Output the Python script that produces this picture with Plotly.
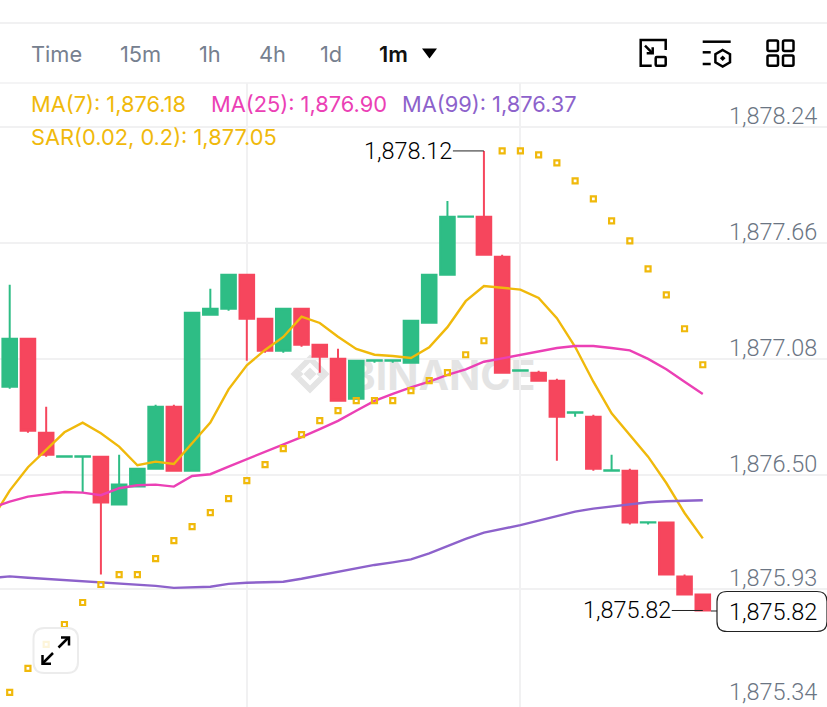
#!/usr/bin/env python3
"""plot.py - ETH/USDT 1m candles with MA and SAR overlays, phone-app style."""

import plotly.graph_objects as go

# ── Data ─────────────────────────────────────────────────────────────────────

index = list(range(39))

opens = [1876.94, 1877.18, 1876.71, 1876.59, 1876.59, 1876.59, 1876.35, 1876.44,
         1876.53, 1876.84, 1876.52, 1877.30, 1877.33, 1877.50, 1877.28, 1877.12,
         1877.33, 1877.15, 1877.08, 1876.88, 1877.07, 1877.07, 1877.06, 1877.26,
         1877.50, 1877.79, 1877.79, 1877.59, 1877.02, 1877.01, 1876.97, 1876.81,
         1876.79, 1876.52, 1876.52, 1876.26, 1876.26, 1875.99, 1875.90]
highs = [1877.45, 1877.18, 1876.84, 1876.592, 1876.592, 1876.59, 1876.60, 1876.53,
         1876.85, 1876.85, 1877.31, 1877.43, 1877.50, 1877.50, 1877.28, 1877.33,
         1877.33, 1877.15, 1877.13, 1877.07, 1877.072, 1877.072, 1877.27, 1877.50,
         1877.87, 1877.792, 1878.12, 1877.60, 1877.022, 1877.02, 1876.98, 1876.812,
         1876.80, 1876.60, 1876.53, 1876.262, 1876.26, 1876.00, 1875.90]
lows = [1876.93, 1876.71, 1876.59, 1876.59, 1876.41, 1876.00, 1876.35, 1876.44,
        1876.53, 1876.52, 1876.52, 1877.30, 1877.32, 1877.07, 1877.11, 1877.11,
        1877.14, 1877.01, 1876.87, 1876.88, 1877.06, 1877.06, 1877.06, 1877.26,
        1877.50, 1877.79, 1877.60, 1877.01, 1877.02, 1876.97, 1876.57, 1876.79,
        1876.52, 1876.52, 1876.25, 1876.25, 1876.00, 1875.90, 1875.82]
closes = [1877.18, 1876.72, 1876.60, 1876.592, 1876.592, 1876.36, 1876.45, 1876.53,
          1876.84, 1876.52, 1877.31, 1877.33, 1877.50, 1877.28, 1877.12, 1877.33,
          1877.15, 1877.09, 1876.87, 1877.07, 1877.072, 1877.072, 1877.27, 1877.50,
          1877.79, 1877.792, 1877.60, 1877.01, 1877.022, 1876.97, 1876.79, 1876.812,
          1876.53, 1876.522, 1876.26, 1876.262, 1876.00, 1875.90, 1875.82]

# MA lines start one bar before the first visible candle
ma_index = list(range(-1, 39))
ma7 = [1876.273, 1876.420, 1876.537, 1876.623, 1876.712, 1876.760, 1876.707, 1876.640,
       1876.547, 1876.565, 1876.553, 1876.657, 1876.760, 1876.927, 1877.047, 1877.124,
       1877.189, 1877.291, 1877.259, 1877.190, 1877.129, 1877.100, 1877.094, 1877.084,
       1877.137, 1877.238, 1877.368, 1877.444, 1877.434, 1877.426, 1877.384, 1877.283,
       1877.140, 1876.965, 1876.807, 1876.698, 1876.590, 1876.458, 1876.308, 1876.181]
ma25 = [1876.333, 1876.365, 1876.390, 1876.400, 1876.413, 1876.410, 1876.397, 1876.432,
        1876.447, 1876.450, 1876.440, 1876.493, 1876.502, 1876.540, 1876.577, 1876.615,
        1876.648, 1876.688, 1876.728, 1876.769, 1876.820, 1876.869, 1876.904, 1876.937,
        1876.965, 1876.999, 1877.027, 1877.065, 1877.082, 1877.099, 1877.115, 1877.134,
        1877.144, 1877.144, 1877.134, 1877.122, 1877.079, 1877.027, 1876.965, 1876.904]
ma99 = [1875.983, 1875.991, 1875.984, 1875.978, 1875.971, 1875.966, 1875.958, 1875.953,
        1875.946, 1875.943, 1875.933, 1875.936, 1875.939, 1875.953, 1875.959, 1875.961,
        1875.964, 1875.979, 1875.996, 1876.013, 1876.031, 1876.048, 1876.061, 1876.076,
        1876.106, 1876.143, 1876.178, 1876.210, 1876.228, 1876.247, 1876.270, 1876.293,
        1876.315, 1876.330, 1876.340, 1876.352, 1876.362, 1876.367, 1876.370, 1876.372]
sar = [1875.41, 1875.53, 1875.65, 1875.75, 1875.86, 1875.95, 1876.00, 1876.00,
       1876.08, 1876.17, 1876.24, 1876.31, 1876.38, 1876.47, 1876.55, 1876.63,
       1876.70, 1876.77, 1876.82, 1876.87, 1876.87, 1876.87, 1876.92, 1876.97,
       1877.01, 1877.10, 1877.17, 1878.12, 1878.12, 1878.10, 1878.06, 1877.97,
       1877.88, 1877.77, 1877.67, 1877.53, 1877.40, 1877.23, 1877.05]

price_ticks = [1878.24, 1877.66, 1877.08, 1876.50, 1875.93, 1875.34]
price_tick_labels = ["1,878.24", "1,877.66", "1,877.08", "1,876.50", "1,875.93", "1,875.34"]
time_grid = [13, 28]

intervals = ["Time", "15m", "1h", "4h", "1d"]
interval_x = [29, 118, 197, 257, 318]

# ── Style ────────────────────────────────────────────────────────────────────

W, H = 827, 707
GREEN, RED = "#2EBD85", "#F6465D"
YELLOW, PINK, PURPLE = "#F0B90B", "#EB40B5", "#8D62CB"
GRAY = "#76808F"
GRID = "#F1F1F2"
FONT = "Inter"
NUM_FONT = dict(family="Roboto", size=23.5, weight=300)  # chart canvas text has even digits
TOP = 83  # chart starts under the toolbar


def px(x):
    return x / W


def py(y):
    return 1 - y / H


def path(d):
    # absolute "M x y L x y" strings in page pixels -> paper coordinates
    out, is_x = [], True
    for tok in d.split():
        if tok.isalpha():
            out.append(tok)
            continue
        out.append(f"{px(float(tok)):.5f}" if is_x else f"{py(float(tok)):.5f}")
        is_x = not is_x
    return " ".join(out)


def stroke(d, width=2.5, color="black", fill=None, layer="above"):
    return dict(type="path", xref="paper", yref="paper", path=path(d), layer=layer,
                line=dict(color=color, width=width), fillcolor=fill or "rgba(0,0,0,0)")


def solid(d, color, layer="above"):
    return dict(type="path", xref="paper", yref="paper", path=path(d), layer=layer,
                line=dict(width=0), fillcolor=color)


def rounded(x0, y0, x1, y1, r):
    return (f"M {x0 + r} {y0} L {x1 - r} {y0} Q {x1} {y0} {x1} {y0 + r} "
            f"L {x1} {y1 - r} Q {x1} {y1} {x1 - r} {y1} L {x0 + r} {y1} "
            f"Q {x0} {y1} {x0} {y1 - r} L {x0} {y0 + r} Q {x0} {y0} {x0 + r} {y0} Z")


def text(x, y, s, color, size=21.8, anchor="left", weight=None):
    return dict(xref="paper", yref="paper", x=px(x), y=py(y), text=s, showarrow=False,
                xanchor=anchor, yanchor="middle",
                font=dict(family=FONT, size=size, color=color, weight=weight))


# ── Figure ───────────────────────────────────────────────────────────────────

fig = go.Figure()

fig.add_trace(go.Candlestick(
    x=index, open=opens, high=highs, low=lows, close=closes,
    increasing=dict(line=dict(color=GREEN, width=2), fillcolor=GREEN),
    decreasing=dict(line=dict(color=RED, width=2), fillcolor=RED),
    whiskerwidth=0, hoverinfo="skip",
))
for name, values, color in [("MA(7)", ma7, YELLOW), ("MA(25)", ma25, PINK), ("MA(99)", ma99, PURPLE)]:
    fig.add_trace(go.Scatter(x=ma_index, y=values, mode="lines", name=name,
                             line=dict(color=color, width=2.4), hoverinfo="skip"))
fig.add_trace(go.Scatter(x=index, y=sar, mode="markers", name="SAR",
                         marker=dict(symbol="square-open", size=5, color=YELLOW,
                                     line=dict(color=YELLOW, width=2.2)),
                         hoverinfo="skip"))

shapes = [
    # toolbar separators
    stroke(f"M 0 23 L {W} 23", 2, GRID),
    stroke(f"M 0 83 L {W} 83", 1.5, GRID),
    # 1m dropdown triangle
    solid("M 422 48.5 L 437 48.5 L 429.5 58.5 Z", "black"),
    # layout icon
    stroke("M 651.7 65.7 L 640.7 65.7 L 640.7 40 L 665.7 40 L 665.7 50"),
    stroke(rounded(655.7, 57, 665.7, 65.7, 1)),
    stroke("M 645 45.7 L 652.7 53.3"),
    stroke("M 652.7 47.3 L 652.7 53.3 L 646.7 53.3"),
    # indicator icon
    stroke("M 702.7 41.7 L 730.7 41.7"),
    stroke("M 702.7 52.3 L 710.7 52.3"),
    stroke("M 702.7 64 L 710.7 64"),
    stroke("M 722.7 50 L 730 54.2 L 730 62.4 L 722.7 66.6 L 715.4 62.4 L 715.4 54.2 Z"),
    solid("M 722.7 55.5 L 725.5 58.3 L 722.7 61.1 L 719.9 58.3 Z", "black"),
    # grid icon
    stroke(rounded(767.5, 40.5, 778, 51, 1.5)),
    stroke(rounded(783, 40.5, 793.5, 51, 1.5)),
    stroke(rounded(767.5, 55.5, 778, 65.7, 1.5)),
    stroke(rounded(783, 55.5, 793.5, 65.7, 1.5)),
    # expand button
    stroke(rounded(33.5, 628, 78, 673, 11), 2, "#ECECEC", "rgba(255,255,255,0.85)"),
    stroke("M 58.5 647.5 L 68 638"),
    stroke("M 61 637.5 L 69 637.5 L 69 645.5"),
    stroke("M 53 653 L 43 663"),
    stroke("M 42.5 655 L 42.5 663.8 L 51 663.8"),
    # watermark logo, under the candles
    solid("M 310 367.5 L 316.5 374 L 310 380.5 L 303.5 374 Z", "#E4E4E4", "below"),
    solid("M 297 367.5 L 303.5 374 L 297 380.5 L 290.5 374 Z", "#E4E4E4", "below"),
    solid("M 323 367.5 L 329.5 374 L 323 380.5 L 316.5 374 Z", "#E4E4E4", "below"),
    solid("M 310 354.5 L 323 367.5 L 319 371.5 L 310 362.5 L 301 371.5 L 297 367.5 Z", "#E4E4E4", "below"),
    solid("M 310 393.5 L 323 380.5 L 319 376.5 L 310 385.5 L 301 376.5 L 297 380.5 Z", "#E4E4E4", "below"),
    dict(type="rect", xref="paper", yref="paper", layer="below",
         x0=px(342), x1=px(542), y0=py(392), y1=py(356),
         line=dict(width=0), fillcolor="rgba(0,0,0,0)",
         label=dict(text="BINANCE", textposition="middle center",
                    font=dict(family="Inter", size=41, color="#E4E4E4", weight=700))),
    # current price box
    stroke("M 711 611 L 717 611", 1, "#222222"),
    stroke(rounded(717, 591.5, 827, 631.5, 10), 1.2, "#222222", "white"),
]

annotations = [text(x, 53.5, s, GRAY) for x, s in zip(interval_x, intervals)]
annotations += [
    text(377, 53.5, "1m", "#111111", weight=600),
    text(29, 104, "MA(7): 1,876.18", YELLOW),
    text(209, 104, "MA(25): 1,876.90", PINK),
    text(400, 104, "MA(99): 1,876.37", PURPLE),
    text(29, 137, "SAR(0.02, 0.2): 1,877.05", YELLOW),
    dict(xref="paper", yref="paper", x=px(772.5), y=py(612), text="1,875.82", showarrow=False,
         xanchor="center", yanchor="middle", font=dict(NUM_FONT, color="#000000")),
    # high / low callouts
    dict(x=26, y=1878.12, ax=-31, ay=0, text="1,878.12", showarrow=True, arrowhead=0,
         arrowwidth=1, arrowcolor="#222222", xanchor="right", standoff=0, borderpad=0,
         font=dict(NUM_FONT, color="#000000")),
    dict(x=38, y=1875.82, ax=-31, ay=0, text="1,875.82", showarrow=True, arrowhead=0,
         arrowwidth=1, arrowcolor="#222222", xanchor="right", standoff=0, borderpad=0,
         font=dict(NUM_FONT, color="#000000")),
]
# price labels sit above their grid lines, right-aligned; the lowest one is pushed up
for value, label in zip(price_ticks, price_tick_labels):
    annotations.append(dict(xref="paper", yref="y", x=px(819), y=value, text=label,
                            showarrow=False, xanchor="right", yanchor="bottom",
                            yshift=-2 if value == price_ticks[-1] else -5,
                            font=dict(NUM_FONT, color="#6B7583")))

fig.update_layout(
    width=W, height=H,
    margin=dict(l=0, r=0, t=0, b=0),
    paper_bgcolor="white", plot_bgcolor="white",
    showlegend=False,
    boxgap=0.2, boxgroupgap=0,
    shapes=shapes,
    annotations=annotations,
)
fig.update_xaxes(range=[-0.532, 44.81], rangeslider_visible=False, showline=False, zeroline=False,
                 tickmode="array", tickvals=time_grid, showticklabels=False,
                 showgrid=True, gridcolor=GRID, gridwidth=1.5)
fig.update_yaxes(domain=[0, 1 - TOP / H], range=[1875.337, 1878.46],
                 tickmode="array", tickvals=price_ticks, showticklabels=False,
                 showline=False, zeroline=False, showgrid=True, gridcolor=GRID, gridwidth=1.5)

fig.write_html("out.html", config={"displayModeBar": False},
               post_script="document.body.style.margin='0';")
